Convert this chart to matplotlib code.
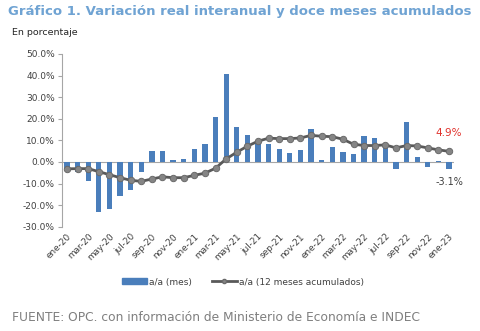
import matplotlib
matplotlib.use("Agg")
import matplotlib.pyplot as plt
import numpy as np
from matplotlib.lines import Line2D
from matplotlib.patches import Patch

# monthly series ene-20 .. ene-23
months = ["ene", "feb", "mar", "abr", "may", "jun", "jul", "ago", "sep", "oct", "nov", "dic"]
labels = [f"{m}-{y}" for y in ("20", "21", "22") for m in months] + ["ene-23"]

aa_mes = [-3.2, -4.6, -8.8, -23.3, -21.6, -15.7, -12.8, -4.8, 5.2, 4.9, 0.8, 1.5,
          5.9, 8.2, 20.8, 40.7, 16.2, 12.7, 8.8, 8.5, 5.9, 4.3, 5.4, 15.3,
          0.8, 7.1, 4.6, 3.9, 11.9, 11.3, 8.8, -3.2, 18.7, 2.3, -2.2, 0.3, -3.1]
aa_12m = [-3.2, -3.1, -3.1, -4.5, -5.9, -7.3, -8.5, -9.0, -7.9, -6.9, -7.3, -7.3,
          -6.2, -5.2, -2.9, 1.4, 4.5, 7.3, 9.6, 11.0, 10.8, 10.8, 11.1, 12.3,
          11.9, 11.7, 10.5, 8.2, 7.6, 7.6, 7.9, 6.5, 7.6, 7.4, 6.5, 5.6, 4.9]

BLUE = "#4a7ebb"
GREY = "#595959"
TXT = "#404040"

plt.rcParams["font.family"] = ["DejaVu Sans"]

fig = plt.figure(figsize=(4.8, 3.31), dpi=100)
ax = fig.add_axes([0.1285, 0.3151, 0.818, 0.5218])

x = np.arange(len(labels))
ax.bar(x, aa_mes, width=0.5, color=BLUE, zorder=2)
ax.plot(x, aa_12m, color=GREY, lw=2.0, marker="o", ms=4.6,
        mfc="#858585", mec="#6a6a6a", mew=0.7, zorder=3)

ax.set_xlim(-0.5, len(labels) - 0.5)
ax.set_ylim(-30, 50)
ax.set_yticks(range(-30, 51, 10))
ax.set_yticklabels([f"{v:.1f}%" for v in range(-30, 51, 10)], fontsize=6.5, color=TXT)
ax.set_xticks(x[::2])
ax.set_xticklabels(labels[::2], rotation=45, ha="right", rotation_mode="anchor",
                   fontsize=6.4, color=TXT)
ax.tick_params(axis="x", length=0, pad=4)
ax.tick_params(axis="y", length=3, color="#a6a6a6", pad=2)

for s in ("top", "right", "bottom"):
    ax.spines[s].set_visible(False)
ax.spines["left"].set_color("#a6a6a6")
ax.axhline(0, color="#a6a6a6", lw=0.8, zorder=1)

# end labels
ax.text(36, 13.6, "4.9%", color="#e0302a", fontsize=7.5, ha="center", va="center")
ax.text(36, -9.1, "-3.1%", color=TXT, fontsize=7, ha="center", va="center")

handles = [Patch(color=BLUE),
           Line2D([0], [0], color=GREY, lw=2.0, marker="o", ms=3, mfc="#858585", mec="#6a6a6a")]
fig.legend(handles, ["a/a (mes)", "a/a (12 meses acumulados)"], loc="center",
           bbox_to_anchor=(0.507, 0.148), ncol=2, frameon=False, fontsize=6.5,
           handlelength=2.7, handleheight=0.6, columnspacing=2.2, handletextpad=0.3,
           labelcolor=TXT)

fig.text(0.017, 0.965, "Gráfico 1. Variación real interanual y doce meses acumulados",
         fontsize=9.5, fontweight="bold", color="#6fa3d3", ha="left", va="center")
fig.text(0.025, 0.903, "En porcentaje", fontsize=6.8, color="#262626", ha="left", va="center")
fig.text(0.025, 0.04, "FUENTE: OPC. con información de Ministerio de Economía e INDEC",
         fontsize=8.8, color="#7f7f7f", ha="left", va="center")

fig.savefig("out.png", dpi=100)
